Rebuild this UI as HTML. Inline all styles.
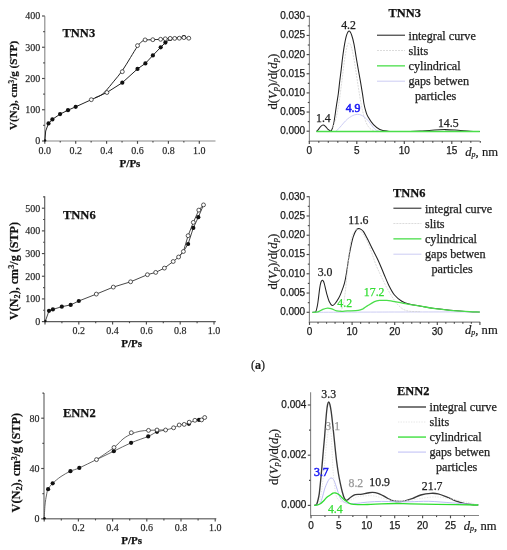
<!DOCTYPE html>
<html><head><meta charset="utf-8"><title>Isotherms and pore size distributions</title>
<style>html,body{margin:0;padding:0;background:#fff;}body{width:507px;height:550px;overflow:hidden;}svg{display:block;}</style>
</head><body>
<svg width="507" height="550" viewBox="0 0 507 550">
<rect width="507" height="550" fill="#fff"/>
<line x1="44.8" y1="16.2" x2="44.8" y2="141.6" stroke="#8a8a8a" stroke-width="1.15"/>
<line x1="44.2" y1="141" x2="215.5" y2="141" stroke="#8a8a8a" stroke-width="1.15"/>
<line x1="42" y1="141" x2="44.8" y2="141" stroke="#4a4a4a" stroke-width="1.15"/>
<line x1="42" y1="109.75" x2="44.8" y2="109.75" stroke="#4a4a4a" stroke-width="1.15"/>
<line x1="42" y1="78.5" x2="44.8" y2="78.5" stroke="#4a4a4a" stroke-width="1.15"/>
<line x1="42" y1="47.25" x2="44.8" y2="47.25" stroke="#4a4a4a" stroke-width="1.15"/>
<line x1="42" y1="16" x2="44.8" y2="16" stroke="#4a4a4a" stroke-width="1.15"/>
<line x1="43.2" y1="125.38" x2="44.8" y2="125.38" stroke="#4a4a4a" stroke-width="1.15"/>
<line x1="43.2" y1="94.12" x2="44.8" y2="94.12" stroke="#4a4a4a" stroke-width="1.15"/>
<line x1="43.2" y1="62.88" x2="44.8" y2="62.88" stroke="#4a4a4a" stroke-width="1.15"/>
<line x1="43.2" y1="31.62" x2="44.8" y2="31.62" stroke="#4a4a4a" stroke-width="1.15"/>
<line x1="44.8" y1="141" x2="44.8" y2="143.8" stroke="#4a4a4a" stroke-width="1.15"/>
<line x1="60.25" y1="141" x2="60.25" y2="142.6" stroke="#4a4a4a" stroke-width="1.15"/>
<line x1="75.7" y1="141" x2="75.7" y2="143.8" stroke="#4a4a4a" stroke-width="1.15"/>
<line x1="91.15" y1="141" x2="91.15" y2="142.6" stroke="#4a4a4a" stroke-width="1.15"/>
<line x1="106.6" y1="141" x2="106.6" y2="143.8" stroke="#4a4a4a" stroke-width="1.15"/>
<line x1="122.05" y1="141" x2="122.05" y2="142.6" stroke="#4a4a4a" stroke-width="1.15"/>
<line x1="137.5" y1="141" x2="137.5" y2="143.8" stroke="#4a4a4a" stroke-width="1.15"/>
<line x1="152.95" y1="141" x2="152.95" y2="142.6" stroke="#4a4a4a" stroke-width="1.15"/>
<line x1="168.4" y1="141" x2="168.4" y2="143.8" stroke="#4a4a4a" stroke-width="1.15"/>
<line x1="183.85" y1="141" x2="183.85" y2="142.6" stroke="#4a4a4a" stroke-width="1.15"/>
<line x1="199.3" y1="141" x2="199.3" y2="143.8" stroke="#4a4a4a" stroke-width="1.15"/>
<text x="40.3" y="144.4" font-family='"Liberation Serif", "Times New Roman", serif' font-size="10" text-anchor="end" font-weight="normal" fill="#1a1a1a" stroke="#1a1a1a" stroke-width="0.25" stroke-opacity="0.6">0</text>
<text x="40.3" y="113.15" font-family='"Liberation Serif", "Times New Roman", serif' font-size="10" text-anchor="end" font-weight="normal" fill="#1a1a1a" stroke="#1a1a1a" stroke-width="0.25" stroke-opacity="0.6">100</text>
<text x="40.3" y="81.9" font-family='"Liberation Serif", "Times New Roman", serif' font-size="10" text-anchor="end" font-weight="normal" fill="#1a1a1a" stroke="#1a1a1a" stroke-width="0.25" stroke-opacity="0.6">200</text>
<text x="40.3" y="50.65" font-family='"Liberation Serif", "Times New Roman", serif' font-size="10" text-anchor="end" font-weight="normal" fill="#1a1a1a" stroke="#1a1a1a" stroke-width="0.25" stroke-opacity="0.6">300</text>
<text x="40.3" y="19.4" font-family='"Liberation Serif", "Times New Roman", serif' font-size="10" text-anchor="end" font-weight="normal" fill="#1a1a1a" stroke="#1a1a1a" stroke-width="0.25" stroke-opacity="0.6">400</text>
<text x="44.8" y="153.6" font-family='"Liberation Serif", "Times New Roman", serif' font-size="10" text-anchor="middle" font-weight="normal" fill="#1a1a1a" stroke="#1a1a1a" stroke-width="0.25" stroke-opacity="0.6">0.0</text>
<text x="75.7" y="153.6" font-family='"Liberation Serif", "Times New Roman", serif' font-size="10" text-anchor="middle" font-weight="normal" fill="#1a1a1a" stroke="#1a1a1a" stroke-width="0.25" stroke-opacity="0.6">0.2</text>
<text x="106.6" y="153.6" font-family='"Liberation Serif", "Times New Roman", serif' font-size="10" text-anchor="middle" font-weight="normal" fill="#1a1a1a" stroke="#1a1a1a" stroke-width="0.25" stroke-opacity="0.6">0.4</text>
<text x="137.5" y="153.6" font-family='"Liberation Serif", "Times New Roman", serif' font-size="10" text-anchor="middle" font-weight="normal" fill="#1a1a1a" stroke="#1a1a1a" stroke-width="0.25" stroke-opacity="0.6">0.6</text>
<text x="168.4" y="153.6" font-family='"Liberation Serif", "Times New Roman", serif' font-size="10" text-anchor="middle" font-weight="normal" fill="#1a1a1a" stroke="#1a1a1a" stroke-width="0.25" stroke-opacity="0.6">0.8</text>
<text x="199.3" y="153.6" font-family='"Liberation Serif", "Times New Roman", serif' font-size="10" text-anchor="middle" font-weight="normal" fill="#1a1a1a" stroke="#1a1a1a" stroke-width="0.25" stroke-opacity="0.6">1.0</text>
<path d="M44.8,141 L45.7,131 L48.5,123.4 L52.4,119.4 L60.1,114.1 L68,110.2 L75.7,106.8 L91.3,99.7 L106.9,92.5 L122.3,82.7 L137.5,68.9 L145.4,63.4 L152.9,55.4 L160.7,47.3 L165.4,42.6 L170.2,38.9 L183.9,37" fill="none" stroke="#222" stroke-width="1.0" stroke-linejoin="round"/>
<path d="M95,97.8 C95.98,97.37 99.12,96.33 100.9,95.2 C102.68,94.07 103.53,93.33 105.7,91 C107.87,88.67 111.15,84.57 113.9,81.2 C116.65,77.83 119.43,74.75 122.2,70.8 C124.97,66.85 127.97,61.57 130.5,57.5 C133.03,53.43 135.62,48.97 137.4,46.4 C139.18,43.83 139.92,43.15 141.2,42.1 C142.48,41.05 143.17,40.5 145.1,40.1 C147.03,39.7 150.22,39.83 152.8,39.7 C155.38,39.57 158.52,39.45 160.6,39.3 C162.68,39.15 163.7,38.95 165.3,38.8 C166.9,38.65 168.63,38.47 170.2,38.4 C171.77,38.33 173.18,38.43 174.7,38.4 C176.22,38.37 177.77,38.33 179.3,38.2 C180.83,38.07 182.32,37.6 183.9,37.6 C185.48,37.6 187.98,38.1 188.8,38.2" fill="none" stroke="#222" stroke-width="1.0" stroke-linejoin="round"/>
<circle cx="48.5" cy="123.4" r="2.1" fill="#111"/>
<circle cx="52.4" cy="119.4" r="2.1" fill="#111"/>
<circle cx="60.1" cy="114.1" r="2.1" fill="#111"/>
<circle cx="68" cy="110.2" r="2.1" fill="#111"/>
<circle cx="75.7" cy="106.8" r="2.1" fill="#111"/>
<circle cx="122.3" cy="82.7" r="2.1" fill="#111"/>
<circle cx="137.5" cy="68.9" r="2.1" fill="#111"/>
<circle cx="145.4" cy="63.4" r="2.1" fill="#111"/>
<circle cx="152.9" cy="55.4" r="2.1" fill="#111"/>
<circle cx="160.7" cy="47.3" r="2.1" fill="#111"/>
<circle cx="165.4" cy="42.6" r="2.1" fill="#111"/>
<circle cx="170.2" cy="38.9" r="2.1" fill="#111"/>
<circle cx="183.9" cy="37" r="2.1" fill="#111"/>
<circle cx="91.3" cy="99.7" r="1.95" fill="#fff" stroke="#222" stroke-width="0.75"/>
<circle cx="106.9" cy="92.5" r="1.95" fill="#fff" stroke="#222" stroke-width="0.75"/>
<circle cx="122.3" cy="71.7" r="1.95" fill="#fff" stroke="#222" stroke-width="0.75"/>
<circle cx="137.5" cy="45.6" r="1.95" fill="#fff" stroke="#222" stroke-width="0.75"/>
<circle cx="145.1" cy="39.9" r="1.95" fill="#fff" stroke="#222" stroke-width="0.75"/>
<circle cx="152.8" cy="39.7" r="1.95" fill="#fff" stroke="#222" stroke-width="0.75"/>
<circle cx="160.6" cy="39.3" r="1.95" fill="#fff" stroke="#222" stroke-width="0.75"/>
<circle cx="165.3" cy="38.8" r="1.95" fill="#fff" stroke="#222" stroke-width="0.75"/>
<circle cx="170.2" cy="38.4" r="1.95" fill="#fff" stroke="#222" stroke-width="0.75"/>
<circle cx="174.7" cy="38.4" r="1.95" fill="#fff" stroke="#222" stroke-width="0.75"/>
<circle cx="179.3" cy="38.2" r="1.95" fill="#fff" stroke="#222" stroke-width="0.75"/>
<circle cx="183.9" cy="37.6" r="1.95" fill="#fff" stroke="#222" stroke-width="0.75"/>
<circle cx="188.8" cy="38.2" r="1.95" fill="#fff" stroke="#222" stroke-width="0.75"/>
<text x="62.5" y="36.8" font-family='"Liberation Serif", "Times New Roman", serif' font-size="12.5" text-anchor="start" font-weight="bold" fill="#111" stroke="#111" stroke-width="0.25">TNN3</text>
<text x="130" y="167.2" font-family='"Liberation Serif", "Times New Roman", serif' font-size="11" text-anchor="middle" font-weight="bold" fill="#111" stroke="#111" stroke-width="0.25">P/Ps</text>
<text transform="translate(17,85.4) rotate(-90)" font-family='"Liberation Serif", "Times New Roman", serif' font-size="11" font-weight="bold" fill="#111" stroke="#111" stroke-width="0.2" text-anchor="middle">V(N<tspan font-size="7.48" dy="2">2</tspan><tspan dy="-2">), cm</tspan><tspan font-size="7.48" dy="-3.5">3</tspan><tspan dy="3.5">/g (STP)</tspan></text>
<line x1="44.7" y1="196.2" x2="44.7" y2="322.2" stroke="#5c5c5c" stroke-width="1.15"/>
<line x1="44.1" y1="321.6" x2="215.8" y2="321.6" stroke="#5c5c5c" stroke-width="1.15"/>
<line x1="41.9" y1="321.6" x2="44.7" y2="321.6" stroke="#4a4a4a" stroke-width="1.15"/>
<line x1="41.9" y1="298.92" x2="44.7" y2="298.92" stroke="#4a4a4a" stroke-width="1.15"/>
<line x1="41.9" y1="276.24" x2="44.7" y2="276.24" stroke="#4a4a4a" stroke-width="1.15"/>
<line x1="41.9" y1="253.56" x2="44.7" y2="253.56" stroke="#4a4a4a" stroke-width="1.15"/>
<line x1="41.9" y1="230.88" x2="44.7" y2="230.88" stroke="#4a4a4a" stroke-width="1.15"/>
<line x1="41.9" y1="208.2" x2="44.7" y2="208.2" stroke="#4a4a4a" stroke-width="1.15"/>
<line x1="43.1" y1="310.26" x2="44.7" y2="310.26" stroke="#4a4a4a" stroke-width="1.15"/>
<line x1="43.1" y1="287.58" x2="44.7" y2="287.58" stroke="#4a4a4a" stroke-width="1.15"/>
<line x1="43.1" y1="264.9" x2="44.7" y2="264.9" stroke="#4a4a4a" stroke-width="1.15"/>
<line x1="43.1" y1="242.22" x2="44.7" y2="242.22" stroke="#4a4a4a" stroke-width="1.15"/>
<line x1="43.1" y1="219.54" x2="44.7" y2="219.54" stroke="#4a4a4a" stroke-width="1.15"/>
<line x1="43.1" y1="196.86" x2="44.7" y2="196.86" stroke="#4a4a4a" stroke-width="1.15"/>
<line x1="45" y1="321.6" x2="45" y2="324.4" stroke="#4a4a4a" stroke-width="1.15"/>
<line x1="61.9" y1="321.6" x2="61.9" y2="323.2" stroke="#4a4a4a" stroke-width="1.15"/>
<line x1="78.8" y1="321.6" x2="78.8" y2="324.4" stroke="#4a4a4a" stroke-width="1.15"/>
<line x1="95.7" y1="321.6" x2="95.7" y2="323.2" stroke="#4a4a4a" stroke-width="1.15"/>
<line x1="112.6" y1="321.6" x2="112.6" y2="324.4" stroke="#4a4a4a" stroke-width="1.15"/>
<line x1="129.5" y1="321.6" x2="129.5" y2="323.2" stroke="#4a4a4a" stroke-width="1.15"/>
<line x1="146.4" y1="321.6" x2="146.4" y2="324.4" stroke="#4a4a4a" stroke-width="1.15"/>
<line x1="163.3" y1="321.6" x2="163.3" y2="323.2" stroke="#4a4a4a" stroke-width="1.15"/>
<line x1="180.2" y1="321.6" x2="180.2" y2="324.4" stroke="#4a4a4a" stroke-width="1.15"/>
<line x1="197.1" y1="321.6" x2="197.1" y2="323.2" stroke="#4a4a4a" stroke-width="1.15"/>
<line x1="214" y1="321.6" x2="214" y2="324.4" stroke="#4a4a4a" stroke-width="1.15"/>
<text x="40.2" y="325" font-family='"Liberation Serif", "Times New Roman", serif' font-size="10" text-anchor="end" font-weight="normal" fill="#1a1a1a" stroke="#1a1a1a" stroke-width="0.25" stroke-opacity="0.6">0</text>
<text x="40.2" y="302.32" font-family='"Liberation Serif", "Times New Roman", serif' font-size="10" text-anchor="end" font-weight="normal" fill="#1a1a1a" stroke="#1a1a1a" stroke-width="0.25" stroke-opacity="0.6">100</text>
<text x="40.2" y="279.64" font-family='"Liberation Serif", "Times New Roman", serif' font-size="10" text-anchor="end" font-weight="normal" fill="#1a1a1a" stroke="#1a1a1a" stroke-width="0.25" stroke-opacity="0.6">200</text>
<text x="40.2" y="256.96" font-family='"Liberation Serif", "Times New Roman", serif' font-size="10" text-anchor="end" font-weight="normal" fill="#1a1a1a" stroke="#1a1a1a" stroke-width="0.25" stroke-opacity="0.6">300</text>
<text x="40.2" y="234.28" font-family='"Liberation Serif", "Times New Roman", serif' font-size="10" text-anchor="end" font-weight="normal" fill="#1a1a1a" stroke="#1a1a1a" stroke-width="0.25" stroke-opacity="0.6">400</text>
<text x="40.2" y="211.6" font-family='"Liberation Serif", "Times New Roman", serif' font-size="10" text-anchor="end" font-weight="normal" fill="#1a1a1a" stroke="#1a1a1a" stroke-width="0.25" stroke-opacity="0.6">500</text>
<text x="78.8" y="334.2" font-family='"Liberation Serif", "Times New Roman", serif' font-size="10" text-anchor="middle" font-weight="normal" fill="#1a1a1a" stroke="#1a1a1a" stroke-width="0.25" stroke-opacity="0.6">0.2</text>
<text x="112.6" y="334.2" font-family='"Liberation Serif", "Times New Roman", serif' font-size="10" text-anchor="middle" font-weight="normal" fill="#1a1a1a" stroke="#1a1a1a" stroke-width="0.25" stroke-opacity="0.6">0.4</text>
<text x="146.4" y="334.2" font-family='"Liberation Serif", "Times New Roman", serif' font-size="10" text-anchor="middle" font-weight="normal" fill="#1a1a1a" stroke="#1a1a1a" stroke-width="0.25" stroke-opacity="0.6">0.6</text>
<text x="180.2" y="334.2" font-family='"Liberation Serif", "Times New Roman", serif' font-size="10" text-anchor="middle" font-weight="normal" fill="#1a1a1a" stroke="#1a1a1a" stroke-width="0.25" stroke-opacity="0.6">0.8</text>
<text x="214" y="334.2" font-family='"Liberation Serif", "Times New Roman", serif' font-size="10" text-anchor="middle" font-weight="normal" fill="#1a1a1a" stroke="#1a1a1a" stroke-width="0.25" stroke-opacity="0.6">1.0</text>
<path d="M45.2,321.6 L49,310.8 L52.9,309.4 L61.8,306.7 L70.7,304.9 L78.8,301 L96.3,294.1 L113.3,287.1 L130.6,281.8 L147.4,274.7 L155.7,272.4 L164.4,268.1 L173.2,261.5 L178.6,257 L183.4,251.5 L188.1,244 L193.3,227.9 L198.3,217.2 L203.5,204.9" fill="none" stroke="#333" stroke-width="0.9" stroke-linejoin="round"/>
<path d="M178.6,257 L183.4,251.5 L188.1,235.7 L193.3,222.4 L198.8,210.1 L203.5,204.9" fill="none" stroke="#333" stroke-width="0.9" stroke-linejoin="round"/>
<circle cx="49" cy="310.8" r="2.1" fill="#111"/>
<circle cx="52.9" cy="309.4" r="2.1" fill="#111"/>
<circle cx="61.8" cy="306.7" r="2.1" fill="#111"/>
<circle cx="70.7" cy="304.9" r="2.1" fill="#111"/>
<circle cx="78.8" cy="301" r="2.1" fill="#111"/>
<circle cx="188.1" cy="244" r="2.1" fill="#111"/>
<circle cx="193.3" cy="227.9" r="2.1" fill="#111"/>
<circle cx="198.3" cy="217.2" r="2.1" fill="#111"/>
<circle cx="96.3" cy="294.1" r="1.95" fill="#fff" stroke="#222" stroke-width="0.75"/>
<circle cx="113.3" cy="287.1" r="1.95" fill="#fff" stroke="#222" stroke-width="0.75"/>
<circle cx="130.6" cy="281.8" r="1.95" fill="#fff" stroke="#222" stroke-width="0.75"/>
<circle cx="147.4" cy="274.7" r="1.95" fill="#fff" stroke="#222" stroke-width="0.75"/>
<circle cx="155.7" cy="272.4" r="1.95" fill="#fff" stroke="#222" stroke-width="0.75"/>
<circle cx="164.4" cy="268.1" r="1.95" fill="#fff" stroke="#222" stroke-width="0.75"/>
<circle cx="173.2" cy="261.5" r="1.95" fill="#fff" stroke="#222" stroke-width="0.75"/>
<circle cx="178.6" cy="257" r="1.95" fill="#fff" stroke="#222" stroke-width="0.75"/>
<circle cx="183.4" cy="251.5" r="1.95" fill="#fff" stroke="#222" stroke-width="0.75"/>
<circle cx="188.1" cy="235.7" r="1.95" fill="#fff" stroke="#222" stroke-width="0.75"/>
<circle cx="193.3" cy="222.4" r="1.95" fill="#fff" stroke="#222" stroke-width="0.75"/>
<circle cx="198.8" cy="210.1" r="1.95" fill="#fff" stroke="#222" stroke-width="0.75"/>
<circle cx="203.5" cy="204.9" r="1.95" fill="#fff" stroke="#222" stroke-width="0.75"/>
<text x="63" y="218.6" font-family='"Liberation Serif", "Times New Roman", serif' font-size="12.5" text-anchor="start" font-weight="bold" fill="#111" stroke="#111" stroke-width="0.25">TNN6</text>
<text x="131.7" y="347" font-family='"Liberation Serif", "Times New Roman", serif' font-size="11" text-anchor="middle" font-weight="bold" fill="#111" stroke="#111" stroke-width="0.25">P/Ps</text>
<text transform="translate(17.6,271) rotate(-90)" font-family='"Liberation Serif", "Times New Roman", serif' font-size="12.1" font-weight="bold" fill="#111" stroke="#111" stroke-width="0.2" text-anchor="middle">V(N<tspan font-size="8.23" dy="2">2</tspan><tspan dy="-2">), cm</tspan><tspan font-size="8.23" dy="-3.5">3</tspan><tspan dy="3.5">/g (STP)</tspan></text>
<line x1="44" y1="392.9" x2="44" y2="519.4" stroke="#808080" stroke-width="1.4"/>
<line x1="43.4" y1="518.8" x2="216.3" y2="518.8" stroke="#808080" stroke-width="1.4"/>
<line x1="41.2" y1="518.8" x2="44" y2="518.8" stroke="#4a4a4a" stroke-width="1.15"/>
<line x1="41.2" y1="468.5" x2="44" y2="468.5" stroke="#4a4a4a" stroke-width="1.15"/>
<line x1="41.2" y1="418.2" x2="44" y2="418.2" stroke="#4a4a4a" stroke-width="1.15"/>
<line x1="42.4" y1="493.65" x2="44" y2="493.65" stroke="#4a4a4a" stroke-width="1.15"/>
<line x1="42.4" y1="443.35" x2="44" y2="443.35" stroke="#4a4a4a" stroke-width="1.15"/>
<line x1="42.4" y1="393.05" x2="44" y2="393.05" stroke="#4a4a4a" stroke-width="1.15"/>
<line x1="44.2" y1="518.8" x2="44.2" y2="521.6" stroke="#4a4a4a" stroke-width="1.15"/>
<line x1="61.3" y1="518.8" x2="61.3" y2="520.4" stroke="#4a4a4a" stroke-width="1.15"/>
<line x1="78.4" y1="518.8" x2="78.4" y2="521.6" stroke="#4a4a4a" stroke-width="1.15"/>
<line x1="95.5" y1="518.8" x2="95.5" y2="520.4" stroke="#4a4a4a" stroke-width="1.15"/>
<line x1="112.6" y1="518.8" x2="112.6" y2="521.6" stroke="#4a4a4a" stroke-width="1.15"/>
<line x1="129.7" y1="518.8" x2="129.7" y2="520.4" stroke="#4a4a4a" stroke-width="1.15"/>
<line x1="146.8" y1="518.8" x2="146.8" y2="521.6" stroke="#4a4a4a" stroke-width="1.15"/>
<line x1="163.9" y1="518.8" x2="163.9" y2="520.4" stroke="#4a4a4a" stroke-width="1.15"/>
<line x1="181" y1="518.8" x2="181" y2="521.6" stroke="#4a4a4a" stroke-width="1.15"/>
<line x1="198.1" y1="518.8" x2="198.1" y2="520.4" stroke="#4a4a4a" stroke-width="1.15"/>
<line x1="215.2" y1="518.8" x2="215.2" y2="521.6" stroke="#4a4a4a" stroke-width="1.15"/>
<text x="39.5" y="522.2" font-family='"Liberation Serif", "Times New Roman", serif' font-size="10" text-anchor="end" font-weight="normal" fill="#1a1a1a" stroke="#1a1a1a" stroke-width="0.25" stroke-opacity="0.6">0</text>
<text x="39.5" y="471.9" font-family='"Liberation Serif", "Times New Roman", serif' font-size="10" text-anchor="end" font-weight="normal" fill="#1a1a1a" stroke="#1a1a1a" stroke-width="0.25" stroke-opacity="0.6">40</text>
<text x="39.5" y="421.6" font-family='"Liberation Serif", "Times New Roman", serif' font-size="10" text-anchor="end" font-weight="normal" fill="#1a1a1a" stroke="#1a1a1a" stroke-width="0.25" stroke-opacity="0.6">80</text>
<text x="78.4" y="531.4" font-family='"Liberation Serif", "Times New Roman", serif' font-size="10" text-anchor="middle" font-weight="normal" fill="#1a1a1a" stroke="#1a1a1a" stroke-width="0.25" stroke-opacity="0.6">0.2</text>
<text x="112.6" y="531.4" font-family='"Liberation Serif", "Times New Roman", serif' font-size="10" text-anchor="middle" font-weight="normal" fill="#1a1a1a" stroke="#1a1a1a" stroke-width="0.25" stroke-opacity="0.6">0.4</text>
<text x="146.8" y="531.4" font-family='"Liberation Serif", "Times New Roman", serif' font-size="10" text-anchor="middle" font-weight="normal" fill="#1a1a1a" stroke="#1a1a1a" stroke-width="0.25" stroke-opacity="0.6">0.6</text>
<text x="181" y="531.4" font-family='"Liberation Serif", "Times New Roman", serif' font-size="10" text-anchor="middle" font-weight="normal" fill="#1a1a1a" stroke="#1a1a1a" stroke-width="0.25" stroke-opacity="0.6">0.8</text>
<text x="215.2" y="531.4" font-family='"Liberation Serif", "Times New Roman", serif' font-size="10" text-anchor="middle" font-weight="normal" fill="#1a1a1a" stroke="#1a1a1a" stroke-width="0.25" stroke-opacity="0.6">1.0</text>
<path d="M44.2,518.8 C44.33,516.5 44.62,508.97 45,505 C45.38,501.03 45.98,497.63 46.5,495 C47.02,492.37 47.07,491.15 48.1,489.2 C49.13,487.25 50.55,485.42 52.7,483.3 C54.85,481.18 58.05,478.52 61,476.5 C63.95,474.48 67.35,472.63 70.4,471.2 C73.45,469.77 74.95,469.83 79.3,467.9 C83.65,465.97 90.75,462.38 96.5,459.6 C102.25,456.82 108.03,454 113.8,451.2 C119.57,448.4 125.37,445.27 131.1,442.8 C136.83,440.33 143.88,438.23 148.2,436.4 C152.52,434.57 154.1,432.87 157,431.8 C159.9,430.73 162.83,430.67 165.6,430 C168.37,429.33 171.33,428.63 173.6,427.8 C175.87,426.97 177.43,425.6 179.2,425 C180.97,424.4 182.58,424.53 184.2,424.2 C185.82,423.87 187.12,423.6 188.9,423 C190.68,422.4 193.22,421.12 194.9,420.6 C196.58,420.08 197.88,420.07 199,419.9 C200.12,419.73 200.65,420 201.6,419.6 C202.55,419.2 204.18,417.85 204.7,417.5" fill="none" stroke="#555" stroke-width="0.9" stroke-linejoin="round"/>
<path d="M96.5,459.6 C99.42,457.58 109.58,450.93 114,447.5 C118.42,444.07 120.12,441.25 123,439 C125.88,436.75 128.47,435.3 131.3,434 C134.13,432.7 137.13,431.8 140,431.2 C142.87,430.6 145.67,430.6 148.5,430.4 C151.33,430.2 154.15,430.07 157,430 C159.85,429.93 164.17,430 165.6,430" fill="none" stroke="#555" stroke-width="0.9" stroke-linejoin="round"/>
<circle cx="48.1" cy="489.2" r="2.1" fill="#111"/>
<circle cx="52.7" cy="483.3" r="2.1" fill="#111"/>
<circle cx="70.4" cy="471.2" r="2.1" fill="#111"/>
<circle cx="79.3" cy="467.9" r="2.1" fill="#111"/>
<circle cx="113.8" cy="451.2" r="2.1" fill="#111"/>
<circle cx="131.1" cy="442.8" r="2.1" fill="#111"/>
<circle cx="148.2" cy="436.4" r="2.1" fill="#111"/>
<circle cx="157" cy="431.8" r="2.1" fill="#111"/>
<circle cx="188.9" cy="423.8" r="2.1" fill="#111"/>
<circle cx="199" cy="419.9" r="2.1" fill="#111"/>
<circle cx="96.5" cy="459.6" r="1.95" fill="#fff" stroke="#222" stroke-width="0.75"/>
<circle cx="114" cy="447.5" r="1.95" fill="#fff" stroke="#222" stroke-width="0.75"/>
<circle cx="131.3" cy="432.7" r="1.95" fill="#fff" stroke="#222" stroke-width="0.75"/>
<circle cx="148.5" cy="430.4" r="1.95" fill="#fff" stroke="#222" stroke-width="0.75"/>
<circle cx="157" cy="430" r="1.95" fill="#fff" stroke="#222" stroke-width="0.75"/>
<circle cx="165.6" cy="430" r="1.95" fill="#fff" stroke="#222" stroke-width="0.75"/>
<circle cx="173.6" cy="427.8" r="1.95" fill="#fff" stroke="#222" stroke-width="0.75"/>
<circle cx="179.2" cy="425" r="1.95" fill="#fff" stroke="#222" stroke-width="0.75"/>
<circle cx="184.2" cy="424.4" r="1.95" fill="#fff" stroke="#222" stroke-width="0.75"/>
<circle cx="189.2" cy="422.2" r="1.95" fill="#fff" stroke="#222" stroke-width="0.75"/>
<circle cx="194.9" cy="420.3" r="1.95" fill="#fff" stroke="#222" stroke-width="0.75"/>
<circle cx="201.6" cy="419.9" r="1.95" fill="#fff" stroke="#222" stroke-width="0.75"/>
<circle cx="204.7" cy="417.5" r="1.95" fill="#fff" stroke="#222" stroke-width="0.75"/>
<text x="63" y="416.6" font-family='"Liberation Serif", "Times New Roman", serif' font-size="12.5" text-anchor="start" font-weight="bold" fill="#111" stroke="#111" stroke-width="0.25">ENN2</text>
<text x="131.7" y="543.8" font-family='"Liberation Serif", "Times New Roman", serif' font-size="11" text-anchor="middle" font-weight="bold" fill="#111" stroke="#111" stroke-width="0.25">P/Ps</text>
<text transform="translate(20.4,462.7) rotate(-90)" font-family='"Liberation Serif", "Times New Roman", serif' font-size="12.3" font-weight="bold" fill="#111" stroke="#111" stroke-width="0.2" text-anchor="middle">V(N<tspan font-size="8.36" dy="2">2</tspan><tspan dy="-2">), cm</tspan><tspan font-size="8.36" dy="-3.5">3</tspan><tspan dy="3.5">/g (STP)</tspan></text>
<circle cx="45.1" cy="140.4" r="1.2" fill="#111"/>
<circle cx="45.4" cy="321" r="1.2" fill="#111"/>
<circle cx="44.5" cy="518.2" r="1.2" fill="#111"/>
<line x1="309.4" y1="15.8" x2="309.4" y2="141.7" stroke="#858585" stroke-width="1.1"/>
<line x1="308.8" y1="141.1" x2="479.8" y2="141.1" stroke="#858585" stroke-width="1.1"/>
<line x1="306.6" y1="131.2" x2="309.4" y2="131.2" stroke="#4a4a4a" stroke-width="1.15"/>
<line x1="306.6" y1="112.05" x2="309.4" y2="112.05" stroke="#4a4a4a" stroke-width="1.15"/>
<line x1="306.6" y1="92.9" x2="309.4" y2="92.9" stroke="#4a4a4a" stroke-width="1.15"/>
<line x1="306.6" y1="73.75" x2="309.4" y2="73.75" stroke="#4a4a4a" stroke-width="1.15"/>
<line x1="306.6" y1="54.6" x2="309.4" y2="54.6" stroke="#4a4a4a" stroke-width="1.15"/>
<line x1="306.6" y1="35.45" x2="309.4" y2="35.45" stroke="#4a4a4a" stroke-width="1.15"/>
<line x1="306.6" y1="16.3" x2="309.4" y2="16.3" stroke="#4a4a4a" stroke-width="1.15"/>
<line x1="307.8" y1="121.62" x2="309.4" y2="121.62" stroke="#4a4a4a" stroke-width="1.15"/>
<line x1="307.8" y1="102.47" x2="309.4" y2="102.47" stroke="#4a4a4a" stroke-width="1.15"/>
<line x1="307.8" y1="83.32" x2="309.4" y2="83.32" stroke="#4a4a4a" stroke-width="1.15"/>
<line x1="307.8" y1="64.17" x2="309.4" y2="64.17" stroke="#4a4a4a" stroke-width="1.15"/>
<line x1="307.8" y1="45.02" x2="309.4" y2="45.02" stroke="#4a4a4a" stroke-width="1.15"/>
<line x1="307.8" y1="25.87" x2="309.4" y2="25.87" stroke="#4a4a4a" stroke-width="1.15"/>
<line x1="309.3" y1="141.1" x2="309.3" y2="143.9" stroke="#4a4a4a" stroke-width="1.15"/>
<line x1="356.8" y1="141.1" x2="356.8" y2="143.9" stroke="#4a4a4a" stroke-width="1.15"/>
<line x1="404.3" y1="141.1" x2="404.3" y2="143.9" stroke="#4a4a4a" stroke-width="1.15"/>
<line x1="451.8" y1="141.1" x2="451.8" y2="143.9" stroke="#4a4a4a" stroke-width="1.15"/>
<line x1="318.8" y1="141.1" x2="318.8" y2="142.7" stroke="#4a4a4a" stroke-width="1.15"/>
<line x1="328.3" y1="141.1" x2="328.3" y2="142.7" stroke="#4a4a4a" stroke-width="1.15"/>
<line x1="337.8" y1="141.1" x2="337.8" y2="142.7" stroke="#4a4a4a" stroke-width="1.15"/>
<line x1="347.3" y1="141.1" x2="347.3" y2="142.7" stroke="#4a4a4a" stroke-width="1.15"/>
<line x1="366.3" y1="141.1" x2="366.3" y2="142.7" stroke="#4a4a4a" stroke-width="1.15"/>
<line x1="375.8" y1="141.1" x2="375.8" y2="142.7" stroke="#4a4a4a" stroke-width="1.15"/>
<line x1="385.3" y1="141.1" x2="385.3" y2="142.7" stroke="#4a4a4a" stroke-width="1.15"/>
<line x1="394.8" y1="141.1" x2="394.8" y2="142.7" stroke="#4a4a4a" stroke-width="1.15"/>
<line x1="413.8" y1="141.1" x2="413.8" y2="142.7" stroke="#4a4a4a" stroke-width="1.15"/>
<line x1="423.3" y1="141.1" x2="423.3" y2="142.7" stroke="#4a4a4a" stroke-width="1.15"/>
<line x1="432.8" y1="141.1" x2="432.8" y2="142.7" stroke="#4a4a4a" stroke-width="1.15"/>
<line x1="442.3" y1="141.1" x2="442.3" y2="142.7" stroke="#4a4a4a" stroke-width="1.15"/>
<line x1="461.3" y1="141.1" x2="461.3" y2="142.7" stroke="#4a4a4a" stroke-width="1.15"/>
<line x1="470.8" y1="141.1" x2="470.8" y2="142.7" stroke="#4a4a4a" stroke-width="1.15"/>
<line x1="480.3" y1="141.1" x2="480.3" y2="142.7" stroke="#4a4a4a" stroke-width="1.15"/>
<text x="305.2" y="134.1" font-family='"Liberation Sans", Arial, sans-serif' font-size="10" text-anchor="end" font-weight="normal" fill="#1a1a1a" stroke="#1a1a1a" stroke-width="0.25">0.000</text>
<text x="305.2" y="114.95" font-family='"Liberation Sans", Arial, sans-serif' font-size="10" text-anchor="end" font-weight="normal" fill="#1a1a1a" stroke="#1a1a1a" stroke-width="0.25">0.005</text>
<text x="305.2" y="95.8" font-family='"Liberation Sans", Arial, sans-serif' font-size="10" text-anchor="end" font-weight="normal" fill="#1a1a1a" stroke="#1a1a1a" stroke-width="0.25">0.010</text>
<text x="305.2" y="76.65" font-family='"Liberation Sans", Arial, sans-serif' font-size="10" text-anchor="end" font-weight="normal" fill="#1a1a1a" stroke="#1a1a1a" stroke-width="0.25">0.015</text>
<text x="305.2" y="57.5" font-family='"Liberation Sans", Arial, sans-serif' font-size="10" text-anchor="end" font-weight="normal" fill="#1a1a1a" stroke="#1a1a1a" stroke-width="0.25">0.020</text>
<text x="305.2" y="38.35" font-family='"Liberation Sans", Arial, sans-serif' font-size="10" text-anchor="end" font-weight="normal" fill="#1a1a1a" stroke="#1a1a1a" stroke-width="0.25">0.025</text>
<text x="305.2" y="19.2" font-family='"Liberation Sans", Arial, sans-serif' font-size="10" text-anchor="end" font-weight="normal" fill="#1a1a1a" stroke="#1a1a1a" stroke-width="0.25">0.030</text>
<text x="309.3" y="154.3" font-family='"Liberation Sans", Arial, sans-serif' font-size="10" text-anchor="middle" font-weight="normal" fill="#1a1a1a" stroke="#1a1a1a" stroke-width="0.25">0</text>
<text x="356.8" y="154.3" font-family='"Liberation Sans", Arial, sans-serif' font-size="10" text-anchor="middle" font-weight="normal" fill="#1a1a1a" stroke="#1a1a1a" stroke-width="0.25">5</text>
<text x="404.3" y="154.3" font-family='"Liberation Sans", Arial, sans-serif' font-size="10" text-anchor="middle" font-weight="normal" fill="#1a1a1a" stroke="#1a1a1a" stroke-width="0.25">10</text>
<text x="451.8" y="154.3" font-family='"Liberation Sans", Arial, sans-serif' font-size="10" text-anchor="middle" font-weight="normal" fill="#1a1a1a" stroke="#1a1a1a" stroke-width="0.25">15</text>
<path d="M316.4,131.5 C316.75,131.13 317.8,130.12 318.5,129.3 C319.2,128.48 319.85,127.3 320.6,126.6 C321.35,125.9 322.2,125.15 323,125.1 C323.8,125.05 324.57,125.58 325.4,126.3 C326.23,127.02 327.08,128.62 328,129.4 C328.92,130.18 330.15,131.23 330.9,131 C331.65,130.77 331.97,129.58 332.5,128 C333.03,126.42 333.45,125.2 334.1,121.5 C334.75,117.8 335.7,110.42 336.4,105.8 C337.1,101.18 337.77,97.72 338.3,93.8 C338.83,89.88 339.12,86.33 339.6,82.3 C340.08,78.27 340.68,73.85 341.2,69.6 C341.72,65.35 342.13,61.05 342.7,56.8 C343.27,52.55 343.95,47.7 344.6,44.1 C345.25,40.5 345.85,37.37 346.6,35.2 C347.35,33.03 348.25,31.1 349.1,31.1 C349.95,31.1 350.88,33.03 351.7,35.2 C352.52,37.37 353.27,40.5 354,44.1 C354.73,47.7 355.38,52.55 356.1,56.8 C356.82,61.05 357.55,65.35 358.3,69.6 C359.05,73.85 359.9,78.27 360.6,82.3 C361.3,86.33 361.92,90.1 362.5,93.8 C363.08,97.5 363.52,101.5 364.1,104.5 C364.68,107.5 365.35,109.75 366,111.8 C366.65,113.85 366.75,114.65 368,116.8 C369.25,118.95 371.53,122.6 373.5,124.7 C375.47,126.8 377.43,128.32 379.8,129.4 C382.17,130.48 385.17,130.85 387.7,131.2 C390.23,131.55 391.28,131.45 395,131.5 C398.72,131.55 405.83,131.57 410,131.5 C414.17,131.43 416.33,131.32 420,131.1 C423.67,130.88 427.83,130.45 432,130.2 C436.17,129.95 440.67,129.58 445,129.6 C449.33,129.62 453.83,130.03 458,130.3 C462.17,130.57 466.37,131 470,131.2 C473.63,131.4 478.17,131.45 479.8,131.5" fill="none" stroke="#222" stroke-width="1.05" stroke-linejoin="round"/>
<path d="M331,128.97 C331.12,128.85 331.48,128.51 331.72,128.22 C331.96,127.94 332.19,127.63 332.43,127.28 C332.67,126.92 332.91,126.53 333.15,126.08 C333.39,125.64 333.63,125.16 333.87,124.61 C334.11,124.06 334.34,123.47 334.58,122.81 C334.82,122.15 335.06,121.43 335.3,120.65 C335.54,119.86 335.78,119.01 336.02,118.08 C336.26,117.15 336.49,116.15 336.73,115.07 C336.97,114 337.21,112.84 337.45,111.62 C337.69,110.39 337.93,109.08 338.17,107.69 C338.41,106.31 338.64,104.85 338.88,103.32 C339.12,101.79 339.36,100.18 339.6,98.52 C339.84,96.85 340.08,95.12 340.32,93.34 C340.56,91.56 340.79,89.72 341.03,87.85 C341.27,85.99 341.51,84.07 341.75,82.15 C341.99,80.24 342.23,78.28 342.47,76.35 C342.71,74.43 342.94,72.48 343.18,70.59 C343.42,68.7 343.66,66.81 343.9,65 C344.14,63.2 344.38,61.42 344.62,59.75 C344.86,58.08 345.09,56.47 345.33,54.98 C345.57,53.5 345.81,52.1 346.05,50.85 C346.29,49.6 346.53,48.46 346.77,47.49 C347.01,46.52 347.24,45.67 347.48,45.01 C347.72,44.34 347.96,43.83 348.2,43.49 C348.44,43.16 348.68,43.02 348.92,43 C349.16,42.98 349.39,43.13 349.63,43.37 C349.87,43.61 350.11,43.97 350.35,44.44 C350.59,44.9 350.83,45.49 351.07,46.18 C351.31,46.86 351.54,47.66 351.78,48.55 C352.02,49.43 352.26,50.43 352.5,51.49 C352.74,52.56 352.98,53.72 353.22,54.95 C353.46,56.17 353.69,57.48 353.93,58.84 C354.17,60.19 354.41,61.62 354.65,63.08 C354.89,64.53 355.13,66.05 355.37,67.58 C355.61,69.11 355.84,70.69 356.08,72.26 C356.32,73.84 356.56,75.44 356.8,77.04 C357.04,78.63 357.28,80.24 357.52,81.82 C357.76,83.4 357.99,84.99 358.23,86.54 C358.47,88.09 358.71,89.63 358.95,91.13 C359.19,92.63 359.43,94.11 359.67,95.54 C359.91,96.97 360.14,98.37 360.38,99.72 C360.62,101.07 360.86,102.37 361.1,103.63 C361.34,104.88 361.58,106.09 361.82,107.25 C362.06,108.4 362.29,109.5 362.53,110.55 C362.77,111.6 363.01,112.6 363.25,113.55 C363.49,114.49 363.73,115.39 363.97,116.23 C364.21,117.07 364.44,117.86 364.68,118.6 C364.92,119.35 365.16,120.04 365.4,120.69 C365.64,121.34 365.88,121.93 366.12,122.5 C366.36,123.06 366.59,123.57 366.83,124.05 C367.07,124.53 367.31,124.97 367.55,125.37 C367.79,125.78 368.03,126.15 368.27,126.49 C368.51,126.83 368.74,127.14 368.98,127.42 C369.22,127.71 369.46,127.96 369.7,128.2 C369.94,128.43 370.18,128.64 370.42,128.83 C370.66,129.02 370.89,129.19 371.13,129.35 C371.37,129.5 371.61,129.64 371.85,129.76 C372.09,129.88 372.33,129.99 372.57,130.09 C372.81,130.19 373.04,130.27 373.28,130.35 C373.52,130.43 373.88,130.52 374,130.56" fill="none" stroke="#d2d2d2" stroke-width="0.8" stroke-dasharray="2,1" stroke-linejoin="round"/>
<path d="M335.7,131.3 C336.33,130.72 338.2,129.17 339.5,127.8 C340.8,126.43 342.17,124.57 343.5,123.1 C344.83,121.63 346.18,120.13 347.5,119 C348.82,117.87 350.23,116.98 351.4,116.3 C352.57,115.62 353.45,115.22 354.5,114.9 C355.55,114.58 356.62,114.38 357.7,114.4 C358.78,114.42 359.95,114.6 361,115 C362.05,115.4 363.08,116.15 364,116.8 C364.92,117.45 365.7,118.12 366.5,118.9 C367.3,119.68 367.88,120.35 368.8,121.5 C369.72,122.65 370.95,124.48 372,125.8 C373.05,127.12 374.1,128.53 375.1,129.4 C376.1,130.27 377.18,130.68 378,131 C378.82,131.32 379.67,131.25 380,131.3" fill="none" stroke="#c6c6f2" stroke-width="0.9" stroke-linejoin="round"/>
<path d="M316.4,131.5 C330.33,131.5 372.77,131.5 400,131.5 C427.23,131.5 466.5,131.5 479.8,131.5" fill="none" stroke="#4ade4a" stroke-width="1.3" stroke-linejoin="round"/>
<text x="348.5" y="29.3" font-family='"Liberation Serif", "Times New Roman", serif' font-size="11.8" text-anchor="middle" font-weight="normal" fill="#222" stroke="#222" stroke-width="0.25">4.2</text>
<text x="323.4" y="122.3" font-family='"Liberation Serif", "Times New Roman", serif' font-size="11.8" text-anchor="middle" font-weight="normal" fill="#222" stroke="#222" stroke-width="0.25">1.4</text>
<text x="353" y="111.9" font-family='"Liberation Serif", "Times New Roman", serif' font-size="11.8" text-anchor="middle" font-weight="normal" fill="#1c1cf5" stroke="#1c1cf5" stroke-width="0.25"><tspan stroke-width="0.55">4.9</tspan></text>
<text x="448.3" y="126.9" font-family='"Liberation Serif", "Times New Roman", serif' font-size="11.8" text-anchor="middle" font-weight="normal" fill="#222" stroke="#222" stroke-width="0.25">14.5</text>
<text transform="translate(276.6,81.7) rotate(-90)" font-family='"Liberation Serif", "Times New Roman", serif' font-size="12.7" fill="#1a1a1a" stroke="#1a1a1a" stroke-width="0.2" text-anchor="middle">d(<tspan font-style="italic">V</tspan><tspan font-style="italic" font-size="8.5" dy="1.6">p</tspan><tspan dy="-1.6">)/d(</tspan><tspan font-style="italic">d</tspan><tspan font-style="italic" font-size="8.5" dy="1.6">p</tspan><tspan dy="-1.6">)</tspan></text>
<text x="465.3" y="155.6" font-family='"Liberation Serif", "Times New Roman", serif' font-size="12.6" fill="#1a1a1a" stroke="#1a1a1a" stroke-width="0.2"><tspan font-style="italic">d</tspan><tspan font-style="italic" font-size="8" dy="1.2">p</tspan><tspan dy="-1.2">, nm</tspan></text>
<text x="388.6" y="16.8" font-family='"Liberation Serif", "Times New Roman", serif' font-size="12.4" text-anchor="start" font-weight="bold" fill="#111" stroke="#111" stroke-width="0.25">TNN3</text>
<line x1="377" y1="35.2" x2="405" y2="35.2" stroke="#222" stroke-width="1.05"/>
<text x="408.5" y="39.5" font-family='"Liberation Serif", "Times New Roman", serif' font-size="12.2" text-anchor="start" font-weight="normal" fill="#222" stroke="#222" stroke-width="0.25">integral curve</text>
<line x1="377" y1="50.53" x2="405" y2="50.53" stroke="#d2d2d2" stroke-width="0.8" stroke-dasharray="2,1"/>
<text x="408.5" y="54.83" font-family='"Liberation Serif", "Times New Roman", serif' font-size="12.2" text-anchor="start" font-weight="normal" fill="#222" stroke="#222" stroke-width="0.25">slits</text>
<line x1="377" y1="65.86" x2="405" y2="65.86" stroke="#4ade4a" stroke-width="1.3"/>
<text x="408.5" y="70.16" font-family='"Liberation Serif", "Times New Roman", serif' font-size="12.2" text-anchor="start" font-weight="normal" fill="#222" stroke="#222" stroke-width="0.25">cylindrical</text>
<line x1="377" y1="81.19" x2="405" y2="81.19" stroke="#c6c6f2" stroke-width="0.9"/>
<text x="408.5" y="85.49" font-family='"Liberation Serif", "Times New Roman", serif' font-size="12.2" text-anchor="start" font-weight="normal" fill="#222" stroke="#222" stroke-width="0.25">gaps betwen</text>
<text x="415" y="100.02" font-family='"Liberation Serif", "Times New Roman", serif' font-size="12.2" text-anchor="start" font-weight="normal" fill="#222" stroke="#222" stroke-width="0.25">particles</text>
<line x1="309.4" y1="196.2" x2="309.4" y2="322.7" stroke="#858585" stroke-width="1.1"/>
<line x1="308.8" y1="322.1" x2="480.2" y2="322.1" stroke="#858585" stroke-width="1.1"/>
<line x1="306.6" y1="312.3" x2="309.4" y2="312.3" stroke="#4a4a4a" stroke-width="1.15"/>
<line x1="306.6" y1="293.04" x2="309.4" y2="293.04" stroke="#4a4a4a" stroke-width="1.15"/>
<line x1="306.6" y1="273.77" x2="309.4" y2="273.77" stroke="#4a4a4a" stroke-width="1.15"/>
<line x1="306.6" y1="254.51" x2="309.4" y2="254.51" stroke="#4a4a4a" stroke-width="1.15"/>
<line x1="306.6" y1="235.24" x2="309.4" y2="235.24" stroke="#4a4a4a" stroke-width="1.15"/>
<line x1="306.6" y1="215.98" x2="309.4" y2="215.98" stroke="#4a4a4a" stroke-width="1.15"/>
<line x1="306.6" y1="196.71" x2="309.4" y2="196.71" stroke="#4a4a4a" stroke-width="1.15"/>
<line x1="307.8" y1="302.67" x2="309.4" y2="302.67" stroke="#4a4a4a" stroke-width="1.15"/>
<line x1="307.8" y1="283.4" x2="309.4" y2="283.4" stroke="#4a4a4a" stroke-width="1.15"/>
<line x1="307.8" y1="264.14" x2="309.4" y2="264.14" stroke="#4a4a4a" stroke-width="1.15"/>
<line x1="307.8" y1="244.87" x2="309.4" y2="244.87" stroke="#4a4a4a" stroke-width="1.15"/>
<line x1="307.8" y1="225.61" x2="309.4" y2="225.61" stroke="#4a4a4a" stroke-width="1.15"/>
<line x1="307.8" y1="206.34" x2="309.4" y2="206.34" stroke="#4a4a4a" stroke-width="1.15"/>
<line x1="309.5" y1="322.1" x2="309.5" y2="324.9" stroke="#4a4a4a" stroke-width="1.15"/>
<line x1="352.1" y1="322.1" x2="352.1" y2="324.9" stroke="#4a4a4a" stroke-width="1.15"/>
<line x1="394.7" y1="322.1" x2="394.7" y2="324.9" stroke="#4a4a4a" stroke-width="1.15"/>
<line x1="437.3" y1="322.1" x2="437.3" y2="324.9" stroke="#4a4a4a" stroke-width="1.15"/>
<line x1="479.9" y1="322.1" x2="479.9" y2="324.9" stroke="#4a4a4a" stroke-width="1.15"/>
<line x1="318.02" y1="322.1" x2="318.02" y2="323.7" stroke="#4a4a4a" stroke-width="1.15"/>
<line x1="326.54" y1="322.1" x2="326.54" y2="323.7" stroke="#4a4a4a" stroke-width="1.15"/>
<line x1="335.06" y1="322.1" x2="335.06" y2="323.7" stroke="#4a4a4a" stroke-width="1.15"/>
<line x1="343.58" y1="322.1" x2="343.58" y2="323.7" stroke="#4a4a4a" stroke-width="1.15"/>
<line x1="360.62" y1="322.1" x2="360.62" y2="323.7" stroke="#4a4a4a" stroke-width="1.15"/>
<line x1="369.14" y1="322.1" x2="369.14" y2="323.7" stroke="#4a4a4a" stroke-width="1.15"/>
<line x1="377.66" y1="322.1" x2="377.66" y2="323.7" stroke="#4a4a4a" stroke-width="1.15"/>
<line x1="386.18" y1="322.1" x2="386.18" y2="323.7" stroke="#4a4a4a" stroke-width="1.15"/>
<line x1="403.22" y1="322.1" x2="403.22" y2="323.7" stroke="#4a4a4a" stroke-width="1.15"/>
<line x1="411.74" y1="322.1" x2="411.74" y2="323.7" stroke="#4a4a4a" stroke-width="1.15"/>
<line x1="420.26" y1="322.1" x2="420.26" y2="323.7" stroke="#4a4a4a" stroke-width="1.15"/>
<line x1="428.78" y1="322.1" x2="428.78" y2="323.7" stroke="#4a4a4a" stroke-width="1.15"/>
<line x1="445.82" y1="322.1" x2="445.82" y2="323.7" stroke="#4a4a4a" stroke-width="1.15"/>
<line x1="454.34" y1="322.1" x2="454.34" y2="323.7" stroke="#4a4a4a" stroke-width="1.15"/>
<line x1="462.86" y1="322.1" x2="462.86" y2="323.7" stroke="#4a4a4a" stroke-width="1.15"/>
<line x1="471.38" y1="322.1" x2="471.38" y2="323.7" stroke="#4a4a4a" stroke-width="1.15"/>
<text x="305.2" y="315.2" font-family='"Liberation Sans", Arial, sans-serif' font-size="10" text-anchor="end" font-weight="normal" fill="#1a1a1a" stroke="#1a1a1a" stroke-width="0.25">0.000</text>
<text x="305.2" y="295.94" font-family='"Liberation Sans", Arial, sans-serif' font-size="10" text-anchor="end" font-weight="normal" fill="#1a1a1a" stroke="#1a1a1a" stroke-width="0.25">0.005</text>
<text x="305.2" y="276.67" font-family='"Liberation Sans", Arial, sans-serif' font-size="10" text-anchor="end" font-weight="normal" fill="#1a1a1a" stroke="#1a1a1a" stroke-width="0.25">0.010</text>
<text x="305.2" y="257.41" font-family='"Liberation Sans", Arial, sans-serif' font-size="10" text-anchor="end" font-weight="normal" fill="#1a1a1a" stroke="#1a1a1a" stroke-width="0.25">0.015</text>
<text x="305.2" y="238.14" font-family='"Liberation Sans", Arial, sans-serif' font-size="10" text-anchor="end" font-weight="normal" fill="#1a1a1a" stroke="#1a1a1a" stroke-width="0.25">0.020</text>
<text x="305.2" y="218.88" font-family='"Liberation Sans", Arial, sans-serif' font-size="10" text-anchor="end" font-weight="normal" fill="#1a1a1a" stroke="#1a1a1a" stroke-width="0.25">0.025</text>
<text x="305.2" y="199.61" font-family='"Liberation Sans", Arial, sans-serif' font-size="10" text-anchor="end" font-weight="normal" fill="#1a1a1a" stroke="#1a1a1a" stroke-width="0.25">0.030</text>
<text x="309.5" y="335.3" font-family='"Liberation Sans", Arial, sans-serif' font-size="10" text-anchor="middle" font-weight="normal" fill="#1a1a1a" stroke="#1a1a1a" stroke-width="0.25">0</text>
<text x="352.1" y="335.3" font-family='"Liberation Sans", Arial, sans-serif' font-size="10" text-anchor="middle" font-weight="normal" fill="#1a1a1a" stroke="#1a1a1a" stroke-width="0.25">10</text>
<text x="394.7" y="335.3" font-family='"Liberation Sans", Arial, sans-serif' font-size="10" text-anchor="middle" font-weight="normal" fill="#1a1a1a" stroke="#1a1a1a" stroke-width="0.25">20</text>
<text x="437.3" y="335.3" font-family='"Liberation Sans", Arial, sans-serif' font-size="10" text-anchor="middle" font-weight="normal" fill="#1a1a1a" stroke="#1a1a1a" stroke-width="0.25">30</text>
<path d="M312.4,312.4 C312.75,312.37 313.92,312.37 314.5,312.2 C315.08,312.03 315.48,312.18 315.9,311.4 C316.32,310.62 316.67,308.98 317,307.5 C317.33,306.02 317.43,305.8 317.9,302.5 C318.37,299.2 319.28,291.12 319.8,287.7 C320.32,284.28 320.58,283.23 321,282 C321.42,280.77 321.9,280.43 322.3,280.3 C322.7,280.17 323.07,280.63 323.4,281.2 C323.73,281.77 323.75,281.63 324.3,283.7 C324.85,285.77 325.88,290.63 326.7,293.6 C327.52,296.57 328.28,299.53 329.2,301.5 C330.12,303.47 331.22,305.07 332.2,305.4 C333.18,305.73 334.03,304.68 335.1,303.5 C336.17,302.32 337.63,299.98 338.6,298.3 C339.57,296.62 339.92,295.92 340.9,293.4 C341.88,290.88 343.53,286.85 344.5,283.2 C345.47,279.55 345.97,275.87 346.7,271.5 C347.43,267.13 348.17,261.35 348.9,257 C349.63,252.65 350.37,248.8 351.1,245.4 C351.83,242 352.45,239.15 353.3,236.6 C354.15,234.05 355.32,231.43 356.2,230.1 C357.08,228.77 357.8,228.72 358.6,228.6 C359.4,228.48 360.18,228.9 361,229.4 C361.82,229.9 362.45,230.07 363.5,231.6 C364.55,233.13 365.77,235.62 367.3,238.6 C368.83,241.58 370.88,245.85 372.7,249.5 C374.52,253.15 376.38,256.55 378.2,260.5 C380.02,264.45 381.78,268.97 383.6,273.2 C385.42,277.43 387.28,282.27 389.1,285.9 C390.92,289.53 392.38,292.45 394.5,295 C396.62,297.55 399.37,299.7 401.8,301.2 C404.23,302.7 406.07,303.18 409.1,304 C412.13,304.82 415.68,305.33 420,306.1 C424.32,306.87 430,307.9 435,308.6 C440,309.3 445,309.83 450,310.3 C455,310.77 460.05,311.1 465,311.4 C469.95,311.7 477.25,311.98 479.7,312.1" fill="none" stroke="#222" stroke-width="1.05" stroke-linejoin="round"/>
<path d="M312.4,312.3 C327,312.25 372.12,312.07 400,312 C427.88,311.93 466.42,311.92 479.7,311.9" fill="none" stroke="#c6c6f2" stroke-width="0.9" stroke-linejoin="round"/>
<path d="M340,311.5 C340.5,310.58 342.08,309.58 343,306 C343.92,302.42 344.63,297.33 345.5,290 C346.37,282.67 347.3,270.17 348.2,262 C349.1,253.83 349.9,246.03 350.9,241 C351.9,235.97 352.98,233.73 354.2,231.8 C355.42,229.87 356.78,229.12 358.2,229.4 C359.62,229.68 361.18,231.48 362.7,233.5 C364.22,235.52 365.78,238.25 367.3,241.5 C368.82,244.75 370.28,248.93 371.8,253 C373.32,257.07 374.73,261.82 376.4,265.9 C378.07,269.98 379.98,273.7 381.8,277.5 C383.62,281.3 385.18,284.87 387.3,288.7 C389.42,292.53 392.55,297.65 394.5,300.5 C396.45,303.35 397.48,304.3 399,305.8 C400.52,307.3 401.77,308.58 403.6,309.5 C405.43,310.42 407.27,310.95 410,311.3 C412.73,311.65 418.33,311.55 420,311.6" fill="none" stroke="#d2d2d2" stroke-width="0.8" stroke-dasharray="2,1" stroke-linejoin="round"/>
<path d="M312.4,312.4 C313.32,312.32 316.17,312.4 317.9,311.9 C319.63,311.4 321.17,310.03 322.8,309.4 C324.43,308.77 326.22,308.18 327.7,308.1 C329.18,308.02 330.22,308.45 331.7,308.9 C333.18,309.35 334.97,310.4 336.6,310.8 C338.23,311.2 339.7,311.28 341.5,311.3 C343.3,311.32 344.62,311.05 347.4,310.9 C350.18,310.75 355.6,310.75 358.2,310.4 C360.8,310.05 361.48,309.55 363,308.8 C364.52,308.05 365.38,307.1 367.3,305.9 C369.22,304.7 372.38,302.52 374.5,301.6 C376.62,300.68 378.08,300.6 380,300.4 C381.92,300.2 384.18,300.32 386,300.4 C387.82,300.48 387.97,300.4 390.9,300.9 C393.83,301.4 398.75,302.53 403.6,303.4 C408.45,304.27 414.77,305.23 420,306.1 C425.23,306.97 430,307.9 435,308.6 C440,309.3 445,309.83 450,310.3 C455,310.77 460.05,311.1 465,311.4 C469.95,311.7 477.25,311.98 479.7,312.1" fill="none" stroke="#4ade4a" stroke-width="1.3" stroke-linejoin="round"/>
<text x="358.4" y="223.8" font-family='"Liberation Serif", "Times New Roman", serif' font-size="11.8" text-anchor="middle" font-weight="normal" fill="#222" stroke="#222" stroke-width="0.25">11.6</text>
<text x="325" y="275.5" font-family='"Liberation Serif", "Times New Roman", serif' font-size="11.8" text-anchor="middle" font-weight="normal" fill="#222" stroke="#222" stroke-width="0.25">3.0</text>
<text x="344.7" y="307.4" font-family='"Liberation Serif", "Times New Roman", serif' font-size="11.8" text-anchor="middle" font-weight="normal" fill="#33dd33" stroke="#33dd33" stroke-width="0.25">4.2</text>
<text x="374.2" y="295.9" font-family='"Liberation Serif", "Times New Roman", serif' font-size="11.8" text-anchor="middle" font-weight="normal" fill="#33dd33" stroke="#33dd33" stroke-width="0.25">17.2</text>
<text transform="translate(276.6,261.7) rotate(-90)" font-family='"Liberation Serif", "Times New Roman", serif' font-size="12.7" fill="#1a1a1a" stroke="#1a1a1a" stroke-width="0.2" text-anchor="middle">d(<tspan font-style="italic">V</tspan><tspan font-style="italic" font-size="8.5" dy="1.6">p</tspan><tspan dy="-1.6">)/d(</tspan><tspan font-style="italic">d</tspan><tspan font-style="italic" font-size="8.5" dy="1.6">p</tspan><tspan dy="-1.6">)</tspan></text>
<text x="465" y="333.8" font-family='"Liberation Serif", "Times New Roman", serif' font-size="12.6" fill="#1a1a1a" stroke="#1a1a1a" stroke-width="0.2"><tspan font-style="italic">d</tspan><tspan font-style="italic" font-size="8" dy="1.2">p</tspan><tspan dy="-1.2">, nm</tspan></text>
<text x="393" y="197" font-family='"Liberation Serif", "Times New Roman", serif' font-size="12.4" text-anchor="start" font-weight="bold" fill="#111" stroke="#111" stroke-width="0.25">TNN6</text>
<line x1="393.4" y1="208.2" x2="421.4" y2="208.2" stroke="#222" stroke-width="1.05"/>
<text x="424.9" y="212.5" font-family='"Liberation Serif", "Times New Roman", serif' font-size="12.2" text-anchor="start" font-weight="normal" fill="#222" stroke="#222" stroke-width="0.25">integral curve</text>
<line x1="393.4" y1="223.53" x2="421.4" y2="223.53" stroke="#d2d2d2" stroke-width="0.8" stroke-dasharray="2,1"/>
<text x="424.9" y="227.83" font-family='"Liberation Serif", "Times New Roman", serif' font-size="12.2" text-anchor="start" font-weight="normal" fill="#222" stroke="#222" stroke-width="0.25">slits</text>
<line x1="393.4" y1="238.86" x2="421.4" y2="238.86" stroke="#4ade4a" stroke-width="1.3"/>
<text x="424.9" y="243.16" font-family='"Liberation Serif", "Times New Roman", serif' font-size="12.2" text-anchor="start" font-weight="normal" fill="#222" stroke="#222" stroke-width="0.25">cylindrical</text>
<line x1="393.4" y1="254.19" x2="421.4" y2="254.19" stroke="#c6c6f2" stroke-width="0.9"/>
<text x="424.9" y="258.49" font-family='"Liberation Serif", "Times New Roman", serif' font-size="12.2" text-anchor="start" font-weight="normal" fill="#222" stroke="#222" stroke-width="0.25">gaps betwen</text>
<text x="431.4" y="273.02" font-family='"Liberation Serif", "Times New Roman", serif' font-size="12.2" text-anchor="start" font-weight="normal" fill="#222" stroke="#222" stroke-width="0.25">particles</text>
<line x1="310.6" y1="392.2" x2="310.6" y2="516.1" stroke="#858585" stroke-width="1.1"/>
<line x1="310" y1="515.5" x2="479" y2="515.5" stroke="#858585" stroke-width="1.1"/>
<line x1="307.8" y1="505.4" x2="310.6" y2="505.4" stroke="#4a4a4a" stroke-width="1.15"/>
<line x1="307.8" y1="455.2" x2="310.6" y2="455.2" stroke="#4a4a4a" stroke-width="1.15"/>
<line x1="307.8" y1="405" x2="310.6" y2="405" stroke="#4a4a4a" stroke-width="1.15"/>
<line x1="309" y1="480.3" x2="310.6" y2="480.3" stroke="#4a4a4a" stroke-width="1.15"/>
<line x1="309" y1="430.1" x2="310.6" y2="430.1" stroke="#4a4a4a" stroke-width="1.15"/>
<line x1="311" y1="515.5" x2="311" y2="518.3" stroke="#4a4a4a" stroke-width="1.15"/>
<line x1="338.9" y1="515.5" x2="338.9" y2="518.3" stroke="#4a4a4a" stroke-width="1.15"/>
<line x1="366.8" y1="515.5" x2="366.8" y2="518.3" stroke="#4a4a4a" stroke-width="1.15"/>
<line x1="394.7" y1="515.5" x2="394.7" y2="518.3" stroke="#4a4a4a" stroke-width="1.15"/>
<line x1="422.6" y1="515.5" x2="422.6" y2="518.3" stroke="#4a4a4a" stroke-width="1.15"/>
<line x1="450.5" y1="515.5" x2="450.5" y2="518.3" stroke="#4a4a4a" stroke-width="1.15"/>
<line x1="324.95" y1="515.5" x2="324.95" y2="517.1" stroke="#4a4a4a" stroke-width="1.15"/>
<line x1="352.85" y1="515.5" x2="352.85" y2="517.1" stroke="#4a4a4a" stroke-width="1.15"/>
<line x1="380.75" y1="515.5" x2="380.75" y2="517.1" stroke="#4a4a4a" stroke-width="1.15"/>
<line x1="408.65" y1="515.5" x2="408.65" y2="517.1" stroke="#4a4a4a" stroke-width="1.15"/>
<line x1="436.55" y1="515.5" x2="436.55" y2="517.1" stroke="#4a4a4a" stroke-width="1.15"/>
<line x1="464.45" y1="515.5" x2="464.45" y2="517.1" stroke="#4a4a4a" stroke-width="1.15"/>
<text x="306.4" y="508.3" font-family='"Liberation Sans", Arial, sans-serif' font-size="10" text-anchor="end" font-weight="normal" fill="#1a1a1a" stroke="#1a1a1a" stroke-width="0.25">0.000</text>
<text x="306.4" y="458.1" font-family='"Liberation Sans", Arial, sans-serif' font-size="10" text-anchor="end" font-weight="normal" fill="#1a1a1a" stroke="#1a1a1a" stroke-width="0.25">0.002</text>
<text x="306.4" y="407.9" font-family='"Liberation Sans", Arial, sans-serif' font-size="10" text-anchor="end" font-weight="normal" fill="#1a1a1a" stroke="#1a1a1a" stroke-width="0.25">0.004</text>
<text x="311" y="528.7" font-family='"Liberation Sans", Arial, sans-serif' font-size="10" text-anchor="middle" font-weight="normal" fill="#1a1a1a" stroke="#1a1a1a" stroke-width="0.25">0</text>
<text x="338.9" y="528.7" font-family='"Liberation Sans", Arial, sans-serif' font-size="10" text-anchor="middle" font-weight="normal" fill="#1a1a1a" stroke="#1a1a1a" stroke-width="0.25">5</text>
<text x="366.8" y="528.7" font-family='"Liberation Sans", Arial, sans-serif' font-size="10" text-anchor="middle" font-weight="normal" fill="#1a1a1a" stroke="#1a1a1a" stroke-width="0.25">10</text>
<text x="394.7" y="528.7" font-family='"Liberation Sans", Arial, sans-serif' font-size="10" text-anchor="middle" font-weight="normal" fill="#1a1a1a" stroke="#1a1a1a" stroke-width="0.25">15</text>
<text x="422.6" y="528.7" font-family='"Liberation Sans", Arial, sans-serif' font-size="10" text-anchor="middle" font-weight="normal" fill="#1a1a1a" stroke="#1a1a1a" stroke-width="0.25">20</text>
<text x="450.5" y="528.7" font-family='"Liberation Sans", Arial, sans-serif' font-size="10" text-anchor="middle" font-weight="normal" fill="#1a1a1a" stroke="#1a1a1a" stroke-width="0.25">25</text>
<path d="M314.2,505.4 C314.42,505.35 315.08,505.3 315.5,505.1 C315.92,504.9 316.28,505.05 316.7,504.2 C317.12,503.35 317.57,501.82 318,500 C318.43,498.18 318.87,496.47 319.3,493.3 C319.73,490.13 320.15,485.53 320.6,481 C321.05,476.47 321.55,471.1 322,466.1 C322.45,461.1 322.87,455.88 323.3,451 C323.73,446.12 324.22,441.38 324.6,436.8 C324.98,432.22 325.27,427.68 325.6,423.5 C325.93,419.32 326.27,414.87 326.6,411.7 C326.93,408.53 327.25,406.12 327.6,404.5 C327.95,402.88 328.32,402 328.7,402 C329.08,402 329.48,402.88 329.9,404.5 C330.32,406.12 330.75,408.53 331.2,411.7 C331.65,414.87 332.13,419.32 332.6,423.5 C333.07,427.68 333.55,432.47 334,436.8 C334.45,441.13 334.85,445.32 335.3,449.5 C335.75,453.68 336.18,457.9 336.7,461.9 C337.22,465.9 337.82,470 338.4,473.5 C338.98,477 339.55,479.82 340.2,482.9 C340.85,485.98 341.6,489.42 342.3,492 C343,494.58 343.75,497.02 344.4,498.4 C345.05,499.78 345.6,500.1 346.2,500.3 C346.8,500.5 347.2,500.15 348,499.6 C348.8,499.05 349.8,497.82 351,497 C352.2,496.18 353.58,495.15 355.2,494.7 C356.82,494.25 358.63,494.58 360.7,494.3 C362.77,494.02 365.63,493.32 367.6,493 C369.57,492.68 370.77,492.35 372.5,492.4 C374.23,492.45 376.25,492.77 378,493.3 C379.75,493.83 381.33,494.73 383,495.6 C384.67,496.47 386.18,497.6 388,498.5 C389.82,499.4 391.9,500.5 393.9,501 C395.9,501.5 398.15,501.53 400,501.5 C401.85,501.47 402.85,501.32 405,500.8 C407.15,500.28 410.27,499.37 412.9,498.4 C415.53,497.43 417.78,495.85 420.8,495 C423.82,494.15 428.12,493.5 431,493.3 C433.88,493.1 435.6,493.25 438.1,493.8 C440.6,494.35 443.1,495.42 446,496.6 C448.9,497.78 452.33,499.73 455.5,500.9 C458.67,502.07 461.85,502.95 465,503.6 C468.15,504.25 472.18,504.58 474.4,504.8 C476.62,505.02 477.65,504.88 478.3,504.9" fill="none" stroke="#3a3a3a" stroke-width="1.35" stroke-linejoin="round"/>
<path d="M314.2,505.4 C314.83,505.32 316.97,505.35 318,504.9 C319.03,504.45 319.65,504.02 320.4,502.7 C321.15,501.38 321.8,499.27 322.5,497 C323.2,494.73 323.77,491.6 324.6,489.1 C325.43,486.6 326.63,483.75 327.5,482 C328.37,480.25 329.07,479.25 329.8,478.6 C330.53,477.95 331.2,477.78 331.9,478.1 C332.6,478.42 333.13,478.67 334,480.5 C334.87,482.33 336.23,486.6 337.1,489.1 C337.97,491.6 338.5,493.75 339.2,495.5 C339.9,497.25 340.25,498.4 341.3,499.6 C342.35,500.8 343.42,502.03 345.5,502.7 C347.58,503.37 350.12,503.7 353.8,503.6 C357.48,503.5 363,502.47 367.6,502.1 C372.2,501.73 376.8,501.47 381.4,501.4 C386,501.33 390.43,501.63 395.2,501.7 C399.97,501.77 404.42,501.87 410,501.8 C415.58,501.73 421.65,501.12 428.7,501.3 C435.75,501.48 444.03,502.32 452.3,502.9 C460.57,503.48 473.97,504.48 478.3,504.8" fill="none" stroke="#bdbdf5" stroke-width="1.0" stroke-linejoin="round"/>
<path d="M316,505.3 C316.33,505.22 317.17,506.52 318,504.8 C318.83,503.08 320,500.8 321,495 C322,489.2 323,479.17 324,470 C325,460.83 326.03,447.67 327,440 C327.97,432.33 329.05,424 329.8,424 C330.55,424 330.98,432.67 331.5,440 C332.02,447.33 332.4,460.5 332.9,468 C333.4,475.5 333.97,480.43 334.5,485 C335.03,489.57 335.35,492.82 336.1,495.4 C336.85,497.98 337.68,499.43 339,500.5 C340.32,501.57 341.83,501.97 344,501.8 C346.17,501.63 349.67,500.37 352,499.5 C354.33,498.63 355.67,497.22 358,496.6 C360.33,495.98 363.25,495.9 366,495.8 C368.75,495.7 371,495.42 374.5,496 C378,496.58 382.75,498.5 387,499.3 C391.25,500.1 395.83,500.68 400,500.8 C404.17,500.92 408.53,500.38 412,500 C415.47,499.62 416.72,499.02 420.8,498.5 C424.88,497.98 431.25,496.77 436.5,496.9 C441.75,497.03 447.03,498.38 452.3,499.3 C457.57,500.22 463.77,501.47 468.1,502.4 C472.43,503.33 476.6,504.48 478.3,504.9" fill="none" stroke="#e2e2e2" stroke-width="0.9" stroke-dasharray="1.3,1.3" stroke-linejoin="round"/>
<path d="M314.2,505.4 C314.58,505.37 315.47,505.47 316.5,505.2 C317.53,504.93 319.23,504.5 320.4,503.8 C321.57,503.1 322.47,502.05 323.5,501 C324.53,499.95 325.35,498.58 326.6,497.5 C327.85,496.42 329.93,495.22 331,494.5 C332.07,493.78 332.33,493.47 333,493.2 C333.67,492.93 334.25,492.8 335,492.9 C335.75,493 336.67,493.35 337.5,493.8 C338.33,494.25 339.2,494.9 340,495.6 C340.8,496.3 341.5,497.23 342.3,498 C343.1,498.77 343.93,499.53 344.8,500.2 C345.67,500.87 346.72,501.48 347.5,502 C348.28,502.52 348.45,502.92 349.5,503.3 C350.55,503.68 350.78,504.1 353.8,504.3 C356.82,504.5 363,504.58 367.6,504.5 C372.2,504.42 376.8,503.97 381.4,503.8 C386,503.63 390.43,503.5 395.2,503.5 C399.97,503.5 403.12,503.67 410,503.8 C416.88,503.93 425.12,504.1 436.5,504.3 C447.88,504.5 471.33,504.88 478.3,505" fill="none" stroke="#30dd30" stroke-width="1.3" stroke-linejoin="round"/>
<text x="328.7" y="397.8" font-family='"Liberation Serif", "Times New Roman", serif' font-size="11.8" text-anchor="middle" font-weight="normal" fill="#222" stroke="#222" stroke-width="0.25">3.3</text>
<text x="332.7" y="429.5" font-family='"Liberation Serif", "Times New Roman", serif' font-size="11.8" text-anchor="middle" font-weight="normal" fill="#999" stroke="#999" stroke-width="0.25">3.1</text>
<text x="321.4" y="476" font-family='"Liberation Serif", "Times New Roman", serif' font-size="11.8" text-anchor="middle" font-weight="normal" fill="#1c1cf5" stroke="#1c1cf5" stroke-width="0.25"><tspan stroke-width="0.55">3.7</tspan></text>
<text x="335.3" y="513" font-family='"Liberation Serif", "Times New Roman", serif' font-size="11.8" text-anchor="middle" font-weight="normal" fill="#33dd33" stroke="#33dd33" stroke-width="0.25">4.4</text>
<text x="355.9" y="486.9" font-family='"Liberation Serif", "Times New Roman", serif' font-size="11.8" text-anchor="middle" font-weight="normal" fill="#999" stroke="#999" stroke-width="0.25">8.2</text>
<text x="379.7" y="486.2" font-family='"Liberation Serif", "Times New Roman", serif' font-size="11.8" text-anchor="middle" font-weight="normal" fill="#222" stroke="#222" stroke-width="0.25">10.9</text>
<text x="432.2" y="489.5" font-family='"Liberation Serif", "Times New Roman", serif' font-size="11.8" text-anchor="middle" font-weight="normal" fill="#222" stroke="#222" stroke-width="0.25">21.7</text>
<text transform="translate(277.8,457) rotate(-90)" font-family='"Liberation Serif", "Times New Roman", serif' font-size="12.7" fill="#1a1a1a" stroke="#1a1a1a" stroke-width="0.2" text-anchor="middle">d(<tspan font-style="italic">V</tspan><tspan font-style="italic" font-size="8.5" dy="1.6">p</tspan><tspan dy="-1.6">)/d(</tspan><tspan font-style="italic">d</tspan><tspan font-style="italic" font-size="8.5" dy="1.6">p</tspan><tspan dy="-1.6">)</tspan></text>
<text x="463.8" y="529.8" font-family='"Liberation Serif", "Times New Roman", serif' font-size="12.6" fill="#1a1a1a" stroke="#1a1a1a" stroke-width="0.2"><tspan font-style="italic">d</tspan><tspan font-style="italic" font-size="8" dy="1.2">p</tspan><tspan dy="-1.2">, nm</tspan></text>
<text x="397" y="394.5" font-family='"Liberation Serif", "Times New Roman", serif' font-size="12.4" text-anchor="start" font-weight="bold" fill="#111" stroke="#111" stroke-width="0.25">ENN2</text>
<line x1="398" y1="407" x2="426" y2="407" stroke="#3a3a3a" stroke-width="1.35"/>
<text x="429.5" y="411.3" font-family='"Liberation Serif", "Times New Roman", serif' font-size="12.2" text-anchor="start" font-weight="normal" fill="#222" stroke="#222" stroke-width="0.25">integral curve</text>
<line x1="398" y1="422.03" x2="426" y2="422.03" stroke="#e2e2e2" stroke-width="0.9" stroke-dasharray="1.3,1.3"/>
<text x="429.5" y="426.33" font-family='"Liberation Serif", "Times New Roman", serif' font-size="12.2" text-anchor="start" font-weight="normal" fill="#222" stroke="#222" stroke-width="0.25">slits</text>
<line x1="398" y1="437.06" x2="426" y2="437.06" stroke="#30dd30" stroke-width="1.3"/>
<text x="429.5" y="441.36" font-family='"Liberation Serif", "Times New Roman", serif' font-size="12.2" text-anchor="start" font-weight="normal" fill="#222" stroke="#222" stroke-width="0.25">cylindrical</text>
<line x1="398" y1="452.09" x2="426" y2="452.09" stroke="#bdbdf5" stroke-width="1.0"/>
<text x="429.5" y="456.39" font-family='"Liberation Serif", "Times New Roman", serif' font-size="12.2" text-anchor="start" font-weight="normal" fill="#222" stroke="#222" stroke-width="0.25">gaps betwen</text>
<text x="436" y="470.62" font-family='"Liberation Serif", "Times New Roman", serif' font-size="12.2" text-anchor="start" font-weight="normal" fill="#222" stroke="#222" stroke-width="0.25">particles</text>
<text x="258" y="369.3" font-family='"Liberation Serif", "Times New Roman", serif' font-size="12" text-anchor="middle" fill="#1a1a1a" stroke="#1a1a1a" stroke-width="0.2">(<tspan font-weight="bold">a</tspan>)</text>
</svg>
</body></html>
